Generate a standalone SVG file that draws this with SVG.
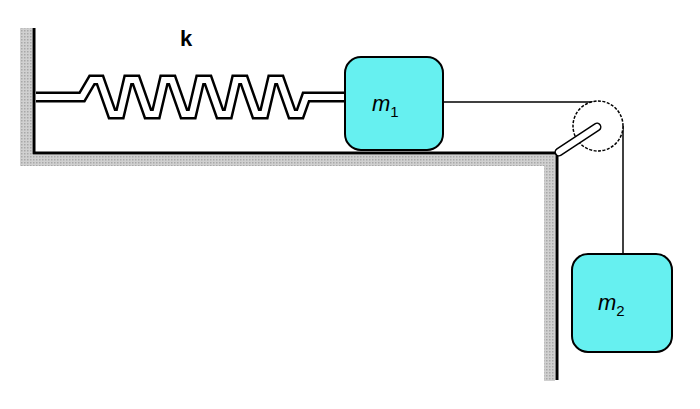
<svg xmlns="http://www.w3.org/2000/svg" width="700" height="409" viewBox="0 0 700 409">
<defs>
<pattern id="g" width="3" height="3" patternUnits="userSpaceOnUse"><rect width="3" height="3" fill="#d0d0d0"/><rect width="1.5" height="1.5" fill="#a8a8a8"/></pattern>
</defs>
<style>
.blk{fill:#66f0f0;stroke:#000;stroke-width:2}
.lbl{font-family:"Liberation Sans",Arial,sans-serif;font-style:italic;font-size:22px}
.sub{font-family:"Liberation Sans",Arial,sans-serif;font-size:15px}
.k{font-family:"Liberation Sans",Arial,sans-serif;font-weight:bold;font-size:22px}
</style>
<rect width="700" height="409" fill="#fff"/>
<g id="ground">
<rect x="20" y="28" width="12" height="138" fill="url(#g)"/>
<rect x="20" y="155" width="535" height="11" fill="url(#g)"/>
<rect x="544" y="155" width="11" height="226" fill="url(#g)"/>
<polyline points="34,28 34,153 557,153 557,380" fill="none" stroke="#000" stroke-width="3"/>
</g>
<g id="connectors">
<g id="spring">
<polyline points="36,97 82,97 92,80 100,80 112,114 120,114 128,80 136,80 148,114 156,114 164,80 172,80 184,114 192,114 200,80 208,80 220,114 228,114 236,80 244,80 256,114 264,114 272,80 280,80 292,114 300,114 306,97 345,97" fill="none" stroke="#000" stroke-width="11" stroke-linejoin="miter"/>
<polyline points="36,97 82,97 92,80 100,80 112,114 120,114 128,80 136,80 148,114 156,114 164,80 172,80 184,114 192,114 200,80 208,80 220,114 228,114 236,80 244,80 256,114 264,114 272,80 280,80 292,114 300,114 306,97 345,97" fill="none" stroke="#fff" stroke-width="6" stroke-linejoin="miter"/>
</g>
<polyline points="443,102 597,102" fill="none" stroke="#000" stroke-width="1.5"/>
<line x1="623" y1="126" x2="623" y2="254" stroke="#000" stroke-width="1.5"/>
</g>
<g id="pulley">
<circle cx="598" cy="126" r="25" fill="#fff" stroke="#000" stroke-width="1.5" stroke-dasharray="3,1.5"/>
<line x1="559" y1="152" x2="597" y2="127" stroke="#000" stroke-width="9" stroke-linecap="round"/>
<line x1="559" y1="152" x2="597" y2="127" stroke="#fff" stroke-width="6" stroke-linecap="round"/>
</g>
<g id="k"><text class="k" x="180" y="46">k</text></g>
<g id="m1">
<rect class="blk" x="345" y="57" width="98" height="93" rx="16"/>
<text class="lbl" x="372" y="111">m<tspan class="sub" dy="6" font-style="normal">1</tspan></text>
</g>
<g id="m2">
<rect class="blk" x="572" y="254" width="100" height="98" rx="16"/>
<text class="lbl" x="598" y="310">m<tspan class="sub" dy="6" font-style="normal">2</tspan></text>
</g>
</svg>
